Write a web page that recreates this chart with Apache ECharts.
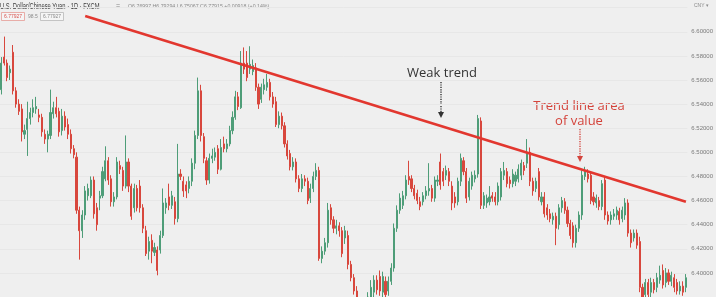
<!DOCTYPE html>
<html><head><meta charset="utf-8">
<script src="https://cdn.jsdelivr.net/npm/echarts@6/dist/echarts.min.js"></script>
<style>html,body{margin:0;padding:0;background:#efefef}#c{width:716px;height:297px}</style>
</head><body><div id="c"></div>
<script>
const opens=[
6.552,6.579,6.574,6.566,6.583,6.551,6.540,6.536,6.515,6.519,
6.528,6.533,6.536,6.531,6.529,6.515,6.511,6.514,6.532,6.537,
6.534,6.518,6.530,6.523,6.515,6.503,6.496,6.452,6.435,6.448,
6.464,6.464,6.477,6.454,6.462,6.464,6.478,6.493,6.478,6.459,
6.463,6.489,6.485,6.472,6.492,6.472,6.454,6.470,6.472,6.454,
6.435,6.418,6.427,6.417,6.419,6.419,6.431,6.454,6.463,6.456,
6.459,6.445,6.482,6.476,6.473,6.470,6.476,6.491,6.514,6.551,
6.513,6.493,6.477,6.495,6.496,6.503,6.486,6.507,6.503,6.507,
6.518,6.529,6.546,6.537,6.574,6.574,6.569,6.567,6.570,6.554,
6.544,6.552,6.554,6.558,6.546,6.542,6.523,6.530,6.522,6.507,
6.499,6.488,6.492,6.478,6.470,6.478,6.476,6.462,6.470,6.480,
6.485,6.412,6.418,6.425,6.454,6.444,6.437,6.439,6.435,6.429,
6.431,6.407,6.396,6.385,6.375,6.367,6.373,6.365,6.380,6.384,
6.394,6.397,6.384,6.393,6.385,6.393,6.404,6.437,6.452,6.456,
6.464,6.480,6.478,6.470,6.466,6.459,6.459,6.464,6.468,6.470,
6.462,6.476,6.492,6.484,6.481,6.484,6.472,6.463,6.459,6.476,
6.493,6.484,6.463,6.472,6.478,6.482,6.526,6.456,6.458,6.459,
6.464,6.463,6.459,6.463,6.481,6.484,6.477,6.474,6.476,6.478,
6.481,6.489,6.491,6.500,6.476,6.470,6.484,6.459,6.463,6.454,
6.449,6.444,6.447,6.440,6.454,6.459,6.452,6.441,6.439,6.425,
6.437,6.448,6.480,6.482,6.481,6.463,6.458,6.460,6.455,6.477,
6.448,6.444,6.447,6.448,6.451,6.445,6.448,6.458,6.433,6.429,
6.433,6.426,6.388,6.382,6.392,6.384,6.392,6.388,6.394,6.402,
6.392,6.400,6.393,6.396,6.392,6.385,6.389,6.388];
const closes=[
6.574,6.574,6.562,6.569,6.551,6.540,6.534,6.517,6.518,6.528,
6.533,6.537,6.538,6.529,6.517,6.511,6.515,6.533,6.537,6.532,
6.517,6.530,6.521,6.515,6.503,6.498,6.452,6.435,6.448,6.468,
6.470,6.477,6.449,6.440,6.464,6.484,6.493,6.477,6.459,6.463,
6.492,6.486,6.472,6.492,6.472,6.447,6.470,6.454,6.454,6.437,
6.416,6.426,6.418,6.421,6.402,6.431,6.458,6.458,6.456,6.464,
6.445,6.482,6.480,6.468,6.468,6.476,6.491,6.514,6.551,6.514,
6.495,6.477,6.495,6.497,6.500,6.486,6.504,6.503,6.507,6.518,
6.529,6.546,6.538,6.574,6.569,6.562,6.573,6.572,6.554,6.540,
6.554,6.556,6.558,6.546,6.540,6.523,6.530,6.522,6.507,6.497,
6.488,6.492,6.478,6.470,6.478,6.476,6.460,6.470,6.480,6.485,
6.412,6.418,6.425,6.452,6.444,6.437,6.439,6.435,6.416,6.435,
6.407,6.396,6.385,6.375,6.370,6.373,6.365,6.380,6.388,6.394,
6.386,6.385,6.397,6.382,6.393,6.404,6.437,6.452,6.462,6.464,
6.477,6.477,6.470,6.464,6.460,6.455,6.464,6.468,6.470,6.462,
6.477,6.477,6.473,6.476,6.485,6.476,6.458,6.458,6.476,6.495,
6.484,6.462,6.476,6.481,6.481,6.528,6.456,6.464,6.462,6.463,
6.462,6.459,6.472,6.484,6.485,6.474,6.474,6.482,6.481,6.486,
6.491,6.485,6.500,6.476,6.468,6.476,6.463,6.463,6.449,6.448,
6.445,6.447,6.437,6.454,6.460,6.452,6.441,6.431,6.425,6.437,
6.448,6.481,6.484,6.478,6.460,6.459,6.462,6.455,6.474,6.448,
6.443,6.448,6.449,6.452,6.444,6.452,6.458,6.433,6.425,6.433,
6.423,6.388,6.379,6.392,6.382,6.392,6.386,6.396,6.398,6.390,
6.400,6.393,6.398,6.388,6.385,6.389,6.384,6.396];
const lows=[
6.548,6.572,6.559,6.560,6.548,6.537,6.531,6.509,6.511,6.497,
6.523,6.529,6.532,6.525,6.513,6.507,6.500,6.511,6.528,6.529,
6.513,6.514,6.518,6.511,6.499,6.495,6.449,6.411,6.429,6.444,
6.460,6.462,6.445,6.435,6.452,6.462,6.476,6.473,6.455,6.455,
6.461,6.482,6.468,6.470,6.467,6.444,6.450,6.451,6.450,6.433,
6.414,6.411,6.408,6.414,6.398,6.416,6.429,6.449,6.452,6.453,
6.440,6.442,6.477,6.463,6.462,6.466,6.472,6.486,6.511,6.509,
6.491,6.473,6.474,6.491,6.493,6.482,6.485,6.500,6.500,6.505,
6.515,6.527,6.535,6.536,6.565,6.559,6.565,6.564,6.551,6.536,
6.541,6.548,6.551,6.543,6.537,6.521,6.520,6.519,6.504,6.494,
6.485,6.485,6.475,6.467,6.467,6.472,6.457,6.458,6.467,6.477,
6.410,6.408,6.415,6.421,6.440,6.433,6.432,6.430,6.413,6.424,
6.403,6.393,6.382,6.372,6.366,6.364,6.361,6.361,6.375,6.380,
6.382,6.381,6.380,6.378,6.381,6.390,6.401,6.434,6.449,6.453,
6.461,6.473,6.467,6.461,6.457,6.452,6.456,6.461,6.464,6.459,
6.459,6.472,6.469,6.472,6.477,6.472,6.452,6.454,6.456,6.472,
6.481,6.458,6.460,6.469,6.475,6.479,6.453,6.453,6.454,6.456,
6.459,6.456,6.456,6.460,6.477,6.471,6.470,6.471,6.472,6.475,
6.477,6.481,6.487,6.472,6.464,6.467,6.460,6.456,6.446,6.444,
6.442,6.440,6.423,6.436,6.450,6.449,6.438,6.428,6.421,6.421,
6.434,6.444,6.477,6.475,6.457,6.456,6.454,6.452,6.452,6.444,
6.440,6.440,6.444,6.444,6.440,6.442,6.444,6.430,6.421,6.426,
6.420,6.384,6.376,6.379,6.379,6.380,6.383,6.384,6.391,6.387,
6.388,6.390,6.389,6.384,6.382,6.382,6.381,6.384];
const highs=[
6.579,6.596,6.577,6.572,6.589,6.554,6.544,6.540,6.523,6.542,
6.537,6.544,6.546,6.536,6.532,6.519,6.518,6.552,6.542,6.546,
6.537,6.536,6.534,6.528,6.519,6.506,6.500,6.455,6.452,6.472,
6.474,6.480,6.480,6.458,6.468,6.488,6.505,6.496,6.481,6.467,
6.496,6.493,6.488,6.514,6.495,6.474,6.474,6.473,6.477,6.457,
6.439,6.430,6.432,6.425,6.422,6.435,6.470,6.462,6.474,6.468,
6.463,6.507,6.486,6.480,6.476,6.480,6.495,6.518,6.562,6.556,
6.516,6.496,6.499,6.503,6.504,6.506,6.511,6.513,6.511,6.522,
6.534,6.551,6.550,6.584,6.587,6.584,6.588,6.577,6.574,6.557,
6.557,6.561,6.565,6.561,6.550,6.546,6.534,6.533,6.525,6.510,
6.502,6.496,6.495,6.481,6.482,6.481,6.479,6.474,6.484,6.491,
6.488,6.422,6.429,6.458,6.457,6.447,6.444,6.442,6.438,6.439,
6.435,6.410,6.399,6.389,6.380,6.377,6.376,6.384,6.394,6.398,
6.398,6.402,6.401,6.397,6.397,6.408,6.441,6.456,6.466,6.468,
6.481,6.493,6.481,6.473,6.469,6.463,6.467,6.472,6.491,6.473,
6.480,6.481,6.499,6.487,6.489,6.487,6.476,6.467,6.479,6.499,
6.496,6.487,6.479,6.484,6.485,6.531,6.529,6.467,6.465,6.472,
6.467,6.467,6.475,6.487,6.492,6.487,6.480,6.486,6.484,6.490,
6.494,6.492,6.511,6.504,6.479,6.479,6.487,6.467,6.467,6.457,
6.453,6.450,6.450,6.457,6.463,6.462,6.455,6.444,6.442,6.440,
6.451,6.485,6.488,6.486,6.484,6.467,6.465,6.463,6.477,6.480,
6.451,6.451,6.453,6.455,6.454,6.455,6.462,6.461,6.436,6.436,
6.436,6.430,6.391,6.395,6.395,6.396,6.395,6.400,6.406,6.407,
6.404,6.403,6.401,6.399,6.395,6.393,6.393,6.399];
const trendStart={index:29,price:6.613};
const trendEnd={index:237,price:6.459};
const yMin=6.38, yMax=6.62, yStep=0.02;

const cats=opens.map((_,i)=>String(i));
const candle=opens.map((o,i)=>[o,closes[i],lows[i],highs[i]]);
const trend=opens.map(()=>null);
trend[trendStart.index]=trendStart.price;
trend[trendEnd.index]=trendEnd.price;

const UP='#4e9d78', DOWN='#d8473d';
const chart=echarts.init(document.getElementById('c'),null,{renderer:'canvas'});
chart.setOption({
  animation:false,
  backgroundColor:'#efefef',
  grid:{left:0,right:26,top:7.65,height:291.6,containLabel:false},
  xAxis:{type:'category',data:cats,boundaryGap:true,show:true,
    axisLine:{show:false},axisTick:{show:false},axisLabel:{show:false},splitLine:{show:false}},
  yAxis:{type:'value',position:'right',min:yMin,max:yMax,interval:yStep,scale:true,
    axisLine:{show:false},axisTick:{show:false},
    splitLine:{show:true,lineStyle:{color:'#e7e7e7',width:1}},
    axisLabel:{show:true,margin:4,fontSize:6,color:'#7a7a7a',fontFamily:'Liberation Sans',
      showMinLabel:false,showMaxLabel:false,formatter:v=>v.toFixed(5)}},
  series:[
    {type:'candlestick',data:candle,barWidth:1.6,
      itemStyle:{color:UP,color0:DOWN,borderColor:UP,borderColor0:DOWN,borderWidth:1}},
    {type:'line',data:trend,connectNulls:true,symbol:'none',z:5,
      lineStyle:{color:'#e2372f',width:2.6}}
  ],
  graphic:[
    {type:'text',x:0,y:2,scaleX:0.68,style:{text:'U.S. Dollar/Chinese Yuan · 1D · FXCM',fontSize:8.5,fill:'#3c3c3c',fontFamily:'Liberation Sans'}},
    {type:'text',x:116,y:2.5,style:{text:'=',fontSize:7,fill:'#888',fontFamily:'Liberation Sans'}},
    {type:'text',x:128,y:4.5,scaleX:1.05,style:{text:'O6.76997 H6.79294 L6.75067 C6.77915 +0.00918 (+0.14%)',fontSize:5,fill:'#8a8a8a',fontFamily:'Liberation Sans'}},
    {type:'rect',shape:{x:1.5,y:12.5,width:23,height:8},style:{fill:'#f5f5f5',stroke:'#e59a94',lineWidth:0.8}},
    {type:'text',x:13,y:16.5,style:{text:'6.77927',fontSize:5,fill:'#d9534f',align:'center',verticalAlign:'middle',fontFamily:'Liberation Sans'}},
    {type:'text',x:28,y:16.5,style:{text:'98.5',fontSize:5,fill:'#8a8a8a',verticalAlign:'middle',fontFamily:'Liberation Sans'}},
    {type:'rect',shape:{x:40.5,y:12.5,width:23,height:8},style:{fill:'#f5f5f5',stroke:'#b8b8b8',lineWidth:0.8}},
    {type:'text',x:52,y:16.5,style:{text:'6.77927',fontSize:5,fill:'#8a8a8a',align:'center',verticalAlign:'middle',fontFamily:'Liberation Sans'}},
    {type:'text',x:694,y:3,style:{text:'CNY ▾',fontSize:5,fill:'#8a8a8a',fontFamily:'Liberation Sans'}},
    {type:'text',x:442,y:73,style:{text:'Weak trend',fontSize:13,fill:'#333333',align:'center',verticalAlign:'middle',fontFamily:'Open Sans'}},
    {type:'line',shape:{x1:441,y1:82,x2:441,y2:113},style:{stroke:'#333',lineWidth:1.4,lineDash:[1.2,1.2]}},
    {type:'polygon',shape:{points:[[438,112],[444,112],[441,118]]},style:{fill:'#333'}},
    {type:'text',x:579,y:106,style:{text:'Trend line area',fontSize:13,fill:'#d4443c',align:'center',verticalAlign:'middle',fontFamily:'Open Sans'}},
    {type:'text',x:579,y:121,style:{text:'of value',fontSize:13,fill:'#d4443c',align:'center',verticalAlign:'middle',fontFamily:'Open Sans'}},
    {type:'line',shape:{x1:580,y1:129,x2:580,y2:157},style:{stroke:'#d4443c',lineWidth:1.4,lineDash:[1.2,1.2]}},
    {type:'polygon',shape:{points:[[577,156],[583,156],[580,162]]},style:{fill:'#d4443c'}}
  ]
});
</script></body></html>
